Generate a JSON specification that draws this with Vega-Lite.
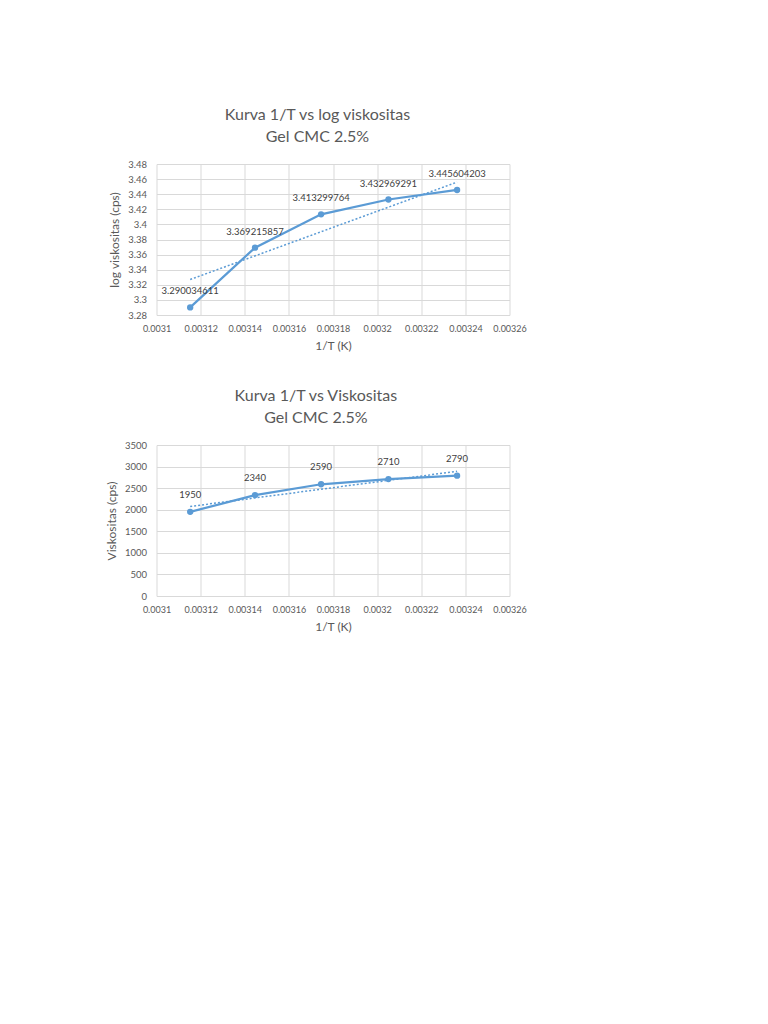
{
  "$schema": "https://vega.github.io/schema/vega-lite/v6.json",
  "background": "white",
  "padding": {"left": 104.5, "top": 106, "right": 10, "bottom": 10},
  "spacing": 36,
  "datasets": {
    "pts": [
      {"x": 0.003115265, "logv": 3.290034611, "visc": 1950},
      {"x": 0.003144654, "logv": 3.369215857, "visc": 2340},
      {"x": 0.003174603, "logv": 3.413299764, "visc": 2590},
      {"x": 0.003205128, "logv": 3.432969291, "visc": 2710},
      {"x": 0.003236246, "logv": 3.445604203, "visc": 2790}
    ],
    "trend_log": [
      {"x": 0.003115265, "logv": 3.327},
      {"x": 0.003236246, "logv": 3.456}
    ],
    "trend_visc": [
      {"x": 0.003115265, "visc": 2075},
      {"x": 0.003236246, "visc": 2890}
    ]
  },
  "config": {
    "font": "Lato",
    "view": {"stroke": null},
    "axis": {
      "domain": false,
      "ticks": false,
      "grid": true,
      "tickCount": 20,
      "labelOverlap": false,
      "gridColor": "#d9d9d9",
      "gridWidth": 1,
      "labelColor": "#595959",
      "labelFontSize": 9,
      "labelFont": "Lato",
      "titleColor": "#595959",
      "titleFontSize": 12,
      "titleFont": "Lato",
      "titleFontWeight": "normal"
    },
    "axisY": {"labelFontSize": 9.5},
    "title": {
      "color": "#595959",
      "fontSize": 16,
      "fontWeight": "normal",
      "font": "Lato",
      "anchor": "middle",
      "frame": "bounds",
      "lineHeight": 22,
      "offset": 14.5
    }
  },
  "vconcat": [
    {
      "width": 353,
      "height": 151,
      "title": {"text": ["Kurva 1/T vs log viskositas", "Gel CMC 2.5%"]},
      "layer": [
        {
          "data": {"name": "trend_log"},
          "mark": {"type": "line", "color": "#5b9bd5", "strokeWidth": 1.5, "strokeDash": [2, 2]},
          "encoding": {
            "x": {"field": "x", "type": "quantitative", "title": "1/T (K)",
              "scale": {"domain": [0.0031, 0.00326], "nice": false, "zero": false},
              "axis": {"values": [0.0031, 0.00312, 0.00314, 0.00316, 0.00318, 0.0032, 0.00322, 0.00324, 0.00326], "format": ".5~f", "labelFlush": false, "labelOverlap": false, "tickCount": 20, "labelPadding": 9, "titlePadding": 7}},
            "y": {"field": "logv", "type": "quantitative", "title": "log viskositas (cps)",
              "scale": {"domain": [3.28, 3.48], "nice": false, "zero": false},
              "axis": {"values": [3.28, 3.3, 3.32, 3.34, 3.36, 3.38, 3.4, 3.42, 3.44, 3.46, 3.48], "format": ".2~f", "labelOverlap": false, "tickCount": 20, "labelPadding": 10, "titlePadding": 6}}
          }
        },
        {
          "data": {"name": "pts"},
          "mark": {"type": "line", "color": "#5b9bd5", "strokeWidth": 2.25, "point": {"filled": true, "size": 40, "color": "#5b9bd5"}},
          "encoding": {
            "x": {"field": "x", "type": "quantitative", "title": "1/T (K)"},
            "y": {"field": "logv", "type": "quantitative", "title": "log viskositas (cps)"}
          }
        },
        {
          "data": {"name": "pts"},
          "mark": {"type": "text", "dy": -16, "fontSize": 9.5, "color": "#404040", "font": "Lato"},
          "encoding": {
            "x": {"field": "x", "type": "quantitative", "title": "1/T (K)"},
            "y": {"field": "logv", "type": "quantitative", "title": "log viskositas (cps)"},
            "text": {"field": "logv", "type": "quantitative", "format": ".9f"}
          }
        }
      ]
    },
    {
      "width": 353,
      "height": 151,
      "title": {"text": ["Kurva 1/T vs Viskositas", "Gel CMC 2.5%"]},
      "layer": [
        {
          "data": {"name": "trend_visc"},
          "mark": {"type": "line", "color": "#5b9bd5", "strokeWidth": 1.5, "strokeDash": [2, 2]},
          "encoding": {
            "x": {"field": "x", "type": "quantitative", "title": "1/T (K)",
              "scale": {"domain": [0.0031, 0.00326], "nice": false, "zero": false},
              "axis": {"values": [0.0031, 0.00312, 0.00314, 0.00316, 0.00318, 0.0032, 0.00322, 0.00324, 0.00326], "format": ".5~f", "labelFlush": false, "labelOverlap": false, "tickCount": 20, "labelPadding": 9, "titlePadding": 7}},
            "y": {"field": "visc", "type": "quantitative", "title": "Viskositas (cps)",
              "scale": {"domain": [0, 3500], "nice": false},
              "axis": {"values": [0, 500, 1000, 1500, 2000, 2500, 3000, 3500], "format": "d", "labelOverlap": false, "tickCount": 20, "labelPadding": 10, "titlePadding": 6}}
          }
        },
        {
          "data": {"name": "pts"},
          "mark": {"type": "line", "color": "#5b9bd5", "strokeWidth": 2.25, "point": {"filled": true, "size": 40, "color": "#5b9bd5"}},
          "encoding": {
            "x": {"field": "x", "type": "quantitative", "title": "1/T (K)"},
            "y": {"field": "visc", "type": "quantitative", "title": "Viskositas (cps)"}
          }
        },
        {
          "data": {"name": "pts"},
          "mark": {"type": "text", "dy": -17, "fontSize": 9.5, "color": "#404040", "font": "Lato"},
          "encoding": {
            "x": {"field": "x", "type": "quantitative", "title": "1/T (K)"},
            "y": {"field": "visc", "type": "quantitative", "title": "Viskositas (cps)"},
            "text": {"field": "visc", "type": "quantitative", "format": "d"}
          }
        }
      ]
    }
  ]
}
